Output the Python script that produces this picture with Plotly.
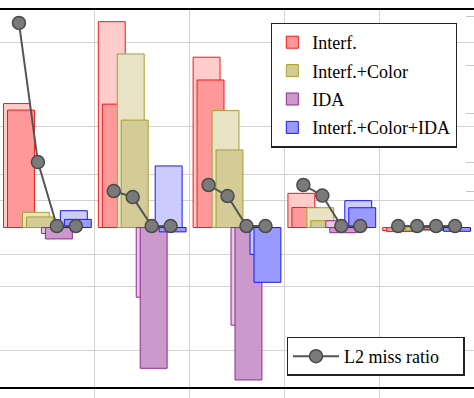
import plotly.graph_objects as go

# ---------------- data ----------------
GROUPS = [0, 1, 2, 3, 4]
SERIES = ["Interf.", "Interf.+Color", "IDA", "Interf.+Color+IDA"]

# back (lighter) bars and front (darker) bars per series
INTERF_BACK = [45.7, 75.9, 62.8, 12.6, -1.1]
INTERF_FRONT = [43.3, 45.5, 54.4, 7.4, -1.5]
COLOR_BACK = [5.6, 64.0, 43.1, 7.3, -0.9]
COLOR_FRONT = [3.9, 39.6, 28.6, 2.5, -1.0]
IDA_BACK = [-2.2, -25.7, -36.0, 2.5, -0.6]
IDA_FRONT = [-4.2, -51.9, -56.2, -1.9, -0.8]
ALL_BACK = [6.2, 22.7, -9.9, 9.9, -1.0]
ALL_FRONT = [3.0, -1.6, -20.2, 7.3, -1.4]

# L2 miss ratio, one value per series inside each group (group-major order)
L2_MISS = [0.94, 0.296, 0.0, 0.0,
           0.162, 0.134, 0.0, 0.0,
           0.19, 0.139, 0.0, 0.0,
           0.19, 0.141, 0.0, 0.0,
           0.0, 0.0, 0.0, 0.0]

# gridline / tick positions (no labels visible in the crop)
GRID_Y = [-45.5, -21.6, -10.1, 9.8, 19.7, 37.4, 68.4]
Y2_TICKS = [0.968, 0.745, 0.523, 0.296, 0.162]
X_GRID = [0.5, 1.5, 2.5, 3.5]

# ---------------- styles ----------------
SERIES_OFFSET = [-0.3, -0.1, 0.1, 0.3]
BAR_W = 0.284
PAIR_SHIFT = 0.021
STYLES = [
    ("#FFCCCC", "#FF9999", "#F01818"),
    ("#E8E3C4", "#D3CC96", "#A89E2E"),
    ("#E6C8E6", "#CC99CC", "#8E2A8E"),
    ("#CCCCFF", "#9999FF", "#1A1AF0"),
]
BACKS = [INTERF_BACK, COLOR_BACK, IDA_BACK, ALL_BACK]
FRONTS = [INTERF_FRONT, COLOR_FRONT, IDA_FRONT, ALL_FRONT]
SERIF = "Liberation Serif, Times New Roman, serif"

fig = go.Figure()
for i, name in enumerate(SERIES):
    fb, ff, lc = STYLES[i]
    fig.add_bar(x=GROUPS, y=BACKS[i], name=name + " (a)",
                offset=SERIES_OFFSET[i] - PAIR_SHIFT - BAR_W / 2, width=BAR_W,
                marker=dict(color=fb, line=dict(color=lc, width=1)),
                showlegend=False, legendgroup=name, legend="legend")
    fig.add_bar(x=GROUPS, y=FRONTS[i], name=name,
                offset=SERIES_OFFSET[i] + PAIR_SHIFT - BAR_W / 2, width=BAR_W,
                marker=dict(color=ff, line=dict(color=lc, width=1)),
                showlegend=True, legendgroup=name, legend="legend")

# line: one polyline per group, broken between groups
lx, ly = [], []
for g in GROUPS:
    for s in range(len(SERIES)):
        lx.append(g + SERIES_OFFSET[s])
        ly.append(L2_MISS[g * len(SERIES) + s])
    lx.append(None)
    ly.append(None)
fig.add_scatter(x=lx, y=ly, yaxis="y2", name="L2 miss ratio", mode="lines+markers",
                connectgaps=False, legend="legend2",
                line=dict(color="#555555", width=2),
                marker=dict(symbol="circle", size=13, color="#7A7A7A",
                            line=dict(color="#4A4A4A", width=1.5)))

fig.update_layout(
    width=474, height=398,
    margin=dict(l=0, r=0, t=10, b=11, autoexpand=False),
    barmode="overlay",
    plot_bgcolor="white", paper_bgcolor="white",
    font=dict(family=SERIF, size=18, color="black"),
    xaxis=dict(range=[-0.5, 4.5], tickvals=X_GRID, showticklabels=False,
               showgrid=True, gridcolor="#D2D2D2", gridwidth=1,
               ticks="outside", ticklen=11, tickcolor="#D2D2D2",
               showline=True, mirror=True, linecolor="black", linewidth=1.5,
               zeroline=False, automargin=False),
    yaxis=dict(range=[-58.8, 80.2], tickvals=GRID_Y, showticklabels=False,
               showgrid=True, gridcolor="#D2D2D2", gridwidth=1,
               zeroline=False, showline=False, ticks="", automargin=False),
    yaxis2=dict(overlaying="y", side="right", range=[-0.745, 1.0],
                tickvals=Y2_TICKS, showticklabels=False, showgrid=False,
                zeroline=False, showline=False, ticks="inside", ticklen=8,
                tickcolor="#C8C8C8", automargin=False),
    legend=dict(x=271 / 474, y=(387 - 22.7) / 377, xanchor="left", yanchor="top",
                bgcolor="white", bordercolor="#222222", borderwidth=1.3,
                tracegroupgap=2, font=dict(size=18, family=SERIF)),
    legend2=dict(x=286.7 / 474, y=(387 - 336.7) / 377, xanchor="left", yanchor="top",
                 orientation="h", entrywidth=114, entrywidthmode="pixels",
                 itemwidth=46,
                 bgcolor="white", bordercolor="#222222", borderwidth=1.3,
                 font=dict(size=18, family=SERIF)),
)

fig.write_html("out.html", config={"displayModeBar": False},
               post_script="document.body.style.margin='0px';")
